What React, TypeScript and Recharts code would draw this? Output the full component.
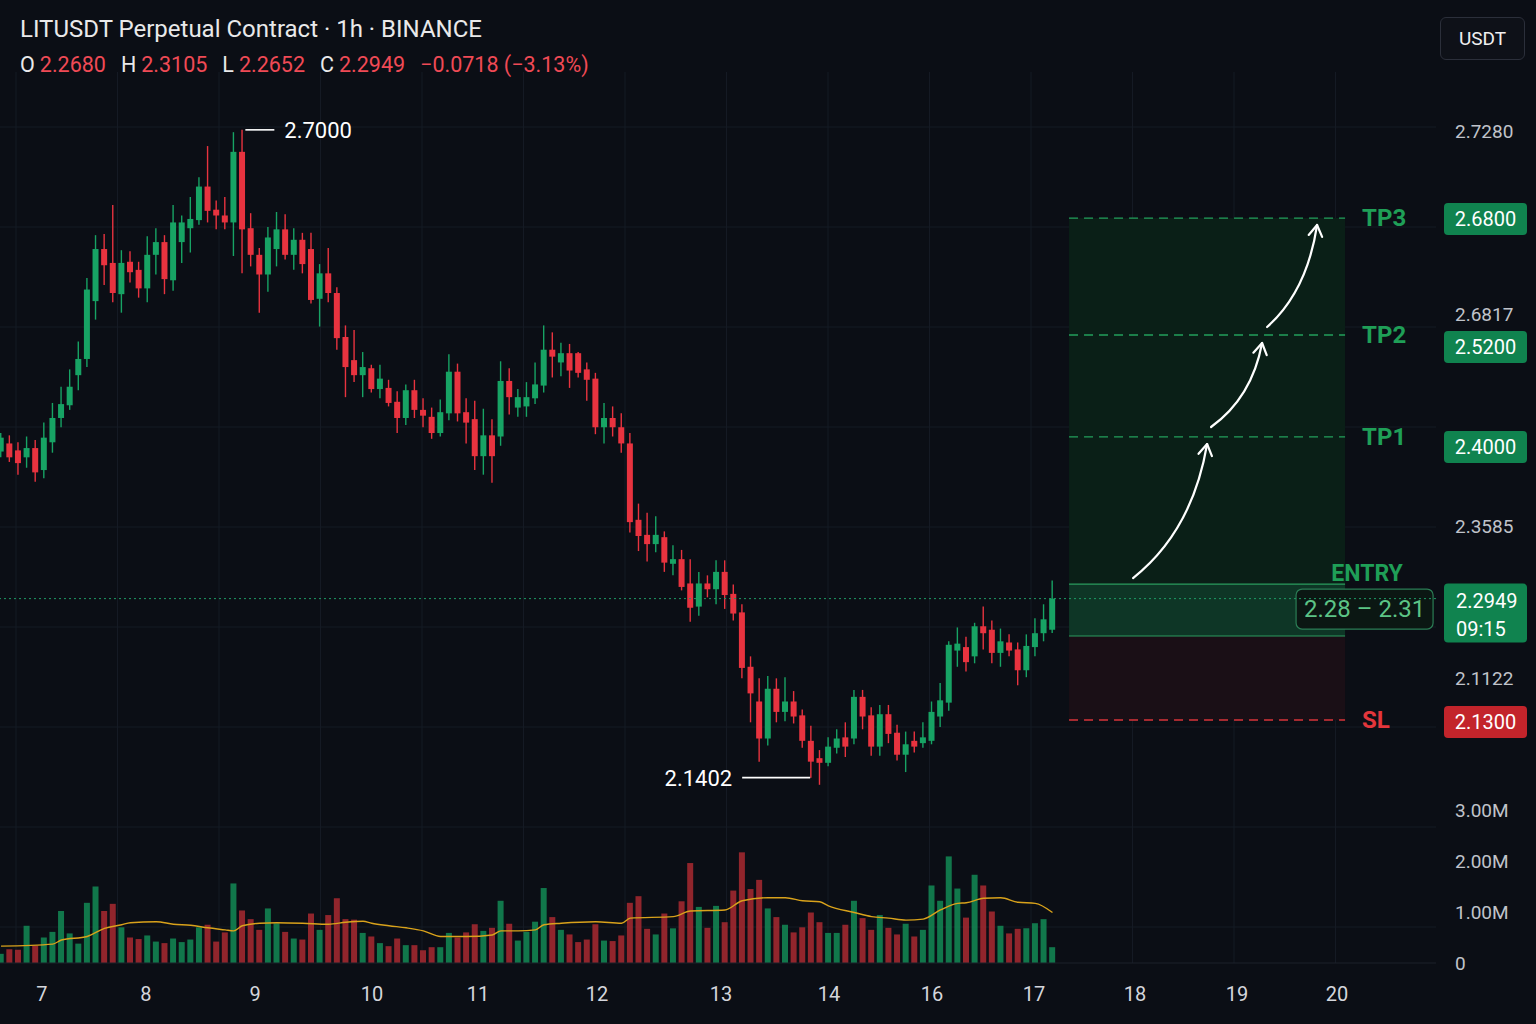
import React from "react";
import {
  ComposedChart,
  Bar,
  Line,
  XAxis,
  YAxis,
  CartesianGrid,
  Cell,
  ReferenceLine,
  ReferenceArea,
  ReferenceDot,
} from "recharts";

const BG = "#0b0e15";
const UP = "#17a364";
const DOWN = "#e8333f";
const VOL_UP = "#138a55";
const VOL_DOWN = "#a92930";
const TP_GREEN = "#1f9f57";
const SL_RED = "#e3363c";
const TP_BADGE = "#10834f";
const SL_BADGE = "#c3242b";
const AXIS_TEXT = "#c0c3ca";
const FONT = "Roboto, 'Noto Sans', sans-serif";

// 1h candles, oldest first: [open, high, low, close]
const ohlc: [number, number, number, number][] = [
  [2.422, 2.438, 2.417, 2.434], [2.429, 2.436, 2.413, 2.417], [2.423, 2.43, 2.402, 2.412],
  [2.417, 2.435, 2.408, 2.425], [2.425, 2.432, 2.396, 2.404], [2.406, 2.447, 2.399, 2.434],
  [2.43, 2.464, 2.421, 2.451], [2.451, 2.478, 2.443, 2.463], [2.462, 2.493, 2.458, 2.478],
  [2.488, 2.517, 2.475, 2.502], [2.502, 2.572, 2.495, 2.562], [2.552, 2.609, 2.536, 2.597],
  [2.597, 2.61, 2.566, 2.583], [2.585, 2.635, 2.551, 2.559], [2.558, 2.596, 2.542, 2.585],
  [2.586, 2.595, 2.568, 2.577], [2.579, 2.586, 2.555, 2.563], [2.563, 2.608, 2.551, 2.592],
  [2.592, 2.615, 2.575, 2.603], [2.603, 2.609, 2.558, 2.571], [2.57, 2.635, 2.561, 2.62],
  [2.603, 2.626, 2.585, 2.62], [2.615, 2.642, 2.594, 2.623], [2.622, 2.659, 2.618, 2.651],
  [2.651, 2.686, 2.62, 2.63], [2.631, 2.639, 2.614, 2.626], [2.626, 2.642, 2.614, 2.62],
  [2.62, 2.698, 2.591, 2.681], [2.681, 2.7, 2.576, 2.614], [2.615, 2.628, 2.582, 2.592],
  [2.592, 2.598, 2.542, 2.575], [2.575, 2.616, 2.56, 2.607], [2.597, 2.629, 2.582, 2.614],
  [2.614, 2.627, 2.588, 2.592], [2.592, 2.615, 2.579, 2.605], [2.605, 2.611, 2.576, 2.584],
  [2.597, 2.611, 2.55, 2.553], [2.554, 2.584, 2.53, 2.576], [2.576, 2.598, 2.551, 2.559],
  [2.559, 2.564, 2.51, 2.52], [2.521, 2.531, 2.469, 2.495], [2.501, 2.527, 2.482, 2.488],
  [2.488, 2.508, 2.469, 2.495], [2.494, 2.497, 2.473, 2.476], [2.476, 2.497, 2.468, 2.485],
  [2.477, 2.484, 2.461, 2.464], [2.465, 2.474, 2.438, 2.451], [2.451, 2.48, 2.445, 2.475],
  [2.475, 2.484, 2.451, 2.458], [2.458, 2.468, 2.443, 2.453], [2.452, 2.46, 2.433, 2.438],
  [2.438, 2.467, 2.435, 2.456], [2.455, 2.506, 2.449, 2.491], [2.491, 2.498, 2.448, 2.455],
  [2.456, 2.468, 2.429, 2.447], [2.45, 2.466, 2.406, 2.418], [2.418, 2.459, 2.402, 2.436],
  [2.436, 2.45, 2.395, 2.418], [2.435, 2.5, 2.427, 2.483], [2.483, 2.494, 2.454, 2.469],
  [2.46, 2.476, 2.452, 2.469], [2.461, 2.482, 2.452, 2.469], [2.468, 2.499, 2.463, 2.48],
  [2.479, 2.531, 2.473, 2.51], [2.51, 2.525, 2.486, 2.504], [2.499, 2.516, 2.487, 2.507],
  [2.507, 2.515, 2.477, 2.492], [2.507, 2.508, 2.486, 2.49], [2.493, 2.499, 2.466, 2.484],
  [2.485, 2.49, 2.437, 2.443], [2.443, 2.464, 2.429, 2.451], [2.451, 2.461, 2.435, 2.443],
  [2.443, 2.455, 2.421, 2.429], [2.429, 2.438, 2.352, 2.361], [2.363, 2.377, 2.336, 2.349],
  [2.35, 2.369, 2.327, 2.342], [2.342, 2.366, 2.335, 2.35], [2.348, 2.353, 2.318, 2.326],
  [2.325, 2.341, 2.315, 2.329], [2.329, 2.337, 2.302, 2.305], [2.308, 2.329, 2.275, 2.287],
  [2.288, 2.318, 2.28, 2.308], [2.308, 2.315, 2.296, 2.303], [2.303, 2.328, 2.29, 2.318],
  [2.318, 2.328, 2.286, 2.298], [2.299, 2.307, 2.276, 2.282], [2.283, 2.29, 2.226, 2.235],
  [2.236, 2.245, 2.188, 2.213], [2.206, 2.226, 2.154, 2.174], [2.174, 2.228, 2.168, 2.217],
  [2.217, 2.226, 2.188, 2.197], [2.197, 2.227, 2.189, 2.206], [2.206, 2.215, 2.187, 2.193],
  [2.194, 2.199, 2.166, 2.172], [2.172, 2.185, 2.1402, 2.154], [2.157, 2.164, 2.134, 2.153],
  [2.153, 2.175, 2.15, 2.167], [2.166, 2.182, 2.161, 2.174], [2.175, 2.188, 2.158, 2.167],
  [2.174, 2.216, 2.169, 2.21], [2.21, 2.216, 2.182, 2.193], [2.194, 2.201, 2.159, 2.167],
  [2.167, 2.203, 2.159, 2.195], [2.195, 2.203, 2.17, 2.178], [2.179, 2.186, 2.155, 2.16],
  [2.16, 2.18, 2.145, 2.169], [2.172, 2.18, 2.162, 2.167], [2.17, 2.188, 2.166, 2.175],
  [2.172, 2.206, 2.169, 2.197], [2.193, 2.222, 2.184, 2.207], [2.205, 2.258, 2.198, 2.255],
  [2.25, 2.27, 2.236, 2.256], [2.253, 2.262, 2.232, 2.24], [2.245, 2.274, 2.239, 2.271],
  [2.271, 2.288, 2.251, 2.265], [2.268, 2.276, 2.239, 2.248], [2.248, 2.269, 2.236, 2.258],
  [2.257, 2.264, 2.245, 2.25], [2.251, 2.257, 2.22, 2.233], [2.233, 2.264, 2.227, 2.254],
  [2.253, 2.278, 2.245, 2.265], [2.265, 2.29, 2.258, 2.277], [2.268, 2.3105, 2.2652, 2.2949],
];

// volume per candle, in millions
const volumes = [
  0.18, 0.27, 0.26, 0.73, 0.34, 0.5, 0.61, 1.02, 0.58, 0.38,
  1.18, 1.5, 1.02, 1.16, 0.7, 0.5, 0.47, 0.54, 0.42, 0.39,
  0.48, 0.41, 0.46, 0.7, 0.75, 0.42, 0.6, 1.56, 1.03, 0.86,
  0.65, 1.07, 0.78, 0.61, 0.48, 0.46, 0.97, 0.65, 0.94, 1.27,
  0.86, 0.85, 0.59, 0.52, 0.39, 0.33, 0.48, 0.35, 0.35, 0.25,
  0.31, 0.31, 0.59, 0.5, 0.6, 0.76, 0.63, 0.69, 1.22, 0.77,
  0.44, 0.61, 0.81, 1.47, 0.9, 0.65, 0.56, 0.41, 0.46, 0.76,
  0.44, 0.43, 0.54, 1.18, 1.31, 0.67, 0.56, 0.97, 0.68, 1.21,
  1.96, 1.1, 0.69, 1.12, 0.8, 1.42, 2.17, 1.45, 1.63, 1.07,
  0.9, 0.75, 0.6, 0.7, 0.99, 0.8, 0.59, 0.59, 0.75, 1.22,
  0.88, 0.65, 0.94, 0.69, 0.56, 0.77, 0.52, 0.65, 1.52, 1.22,
  2.09, 1.46, 0.89, 1.73, 1.52, 1.01, 0.73, 0.58, 0.67, 0.68,
  0.78, 0.86, 0.31,
];

// yellow volume average, read at [candle, millions]
const volumeMa: [number, number][] = [
  [0, 0.33], [6, 0.37], [7, 0.45], [10, 0.52], [12, 0.68], [14, 0.75], [15, 0.79],
  [18, 0.81], [20, 0.76], [22, 0.74], [24, 0.69], [26, 0.65], [27, 0.63], [28, 0.73],
  [30, 0.78], [32, 0.79], [35, 0.78], [38, 0.76], [40, 0.8], [42, 0.82], [43, 0.78],
  [45, 0.73], [47, 0.69], [49, 0.63], [51, 0.52], [54, 0.52], [57, 0.55], [58, 0.63],
  [60, 0.63], [62, 0.65], [63, 0.75], [65, 0.78], [69, 0.81], [72, 0.78], [73, 0.88],
  [78, 0.91], [80, 1.02], [84, 1.04], [86, 1.22], [89, 1.28], [91, 1.28], [93, 1.22],
  [95, 1.2], [96, 1.12], [99, 0.99], [101, 0.91], [103, 0.88], [105, 0.84], [107, 0.86],
  [109, 1.04], [111, 1.17], [112, 1.18], [114, 1.27], [116, 1.28], [118, 1.19],
  [120, 1.17], [122, 0.99],
];

// day labels sit where the picture prints them (candle units)
const dayTickAt = [4.75, 16.82, 29.47, 43.05, 55.35, 69.15, 83.54, 96.07, 108.03, 119.86, 131.58, 143.42, 155.02];
const dayTickLabels = ["7", "8", "9", "10", "11", "12", "13", "14", "16", "17", "18", "19", "20"];

// grey price labels: the printed numbers don't follow the axis, so keep both
const priceTickAt = [2.699, 2.5409, 2.3576, 2.2263];
const priceTickLabels = ["2.7280", "2.6817", "2.3585", "2.1122"];

// trade plan: lines where drawn, badges with the printed prices
const levelNames = ["TP3", "TP2", "TP1", "SL"];
const levelAt = [2.6238, 2.5227, 2.4346, 2.19];
const levelLabels = ["2.6800", "2.5200", "2.4000", "2.1300"];
const entryZone = [2.2626, 2.3075];
const entryLabel = "2.28 – 2.31";
const planFrom = 123.92;
const planTo = 155.95;

// curved arrows from the entry up to each target: [candle, price]
const arrowTail: [number, number][] = [[131.35, 2.3127], [140.4, 2.4432], [146.9, 2.5296]];
const arrowTip: [number, number][] = [[139.94, 2.4285], [146.32, 2.5158], [152.7, 2.6178]];

const volumeTicks = [0, 1, 2, 3];
const volumeTickLabels = ["0", "1.00M", "2.00M", "3.00M"];

const peakIdx = 28;
const troughIdx = 94;
const countdown = "09:15";
const change = "−0.0718 (−3.13%)";

const X_DOMAIN: [number, number] = [-0.12, 166.5];
const badgeNudge: Record<string, number> = { TP3: 1, TP2: 12, TP1: 10, SL: 2 };

const maAt = new Map(volumeMa);
const rows = ohlc.map(([open, high, low, close], t) => ({
  t,
  open,
  high,
  low,
  close,
  volume: volumes[t],
  ma: maAt.has(t) ? maAt.get(t) : null,
}));
const last = rows[rows.length - 1];
const lastClose = last.close;
const dayLabelAt = new Map(dayTickAt.map((v, k) => [v, dayTickLabels[k]]));

const Candle = (props: any) => {
  const { x, y, width, height, payload } = props;
  const { open, close, high, low } = payload;
  const top = Math.min(y, y + height);
  const h = Math.abs(height);
  const k = high > low ? h / (high - low) : 0;
  const yOf = (v: number) => top + (high - v) * k;
  const color = close >= open ? UP : DOWN;
  const bodyTop = yOf(Math.max(open, close));
  const bodyBottom = yOf(Math.min(open, close));
  const cx = x + width / 2;
  return (
    <g>
      <line x1={cx} x2={cx} y1={top} y2={top + h} stroke={color} strokeWidth={1.4} />
      <rect x={x} y={bodyTop} width={width} height={Math.max(1, bodyBottom - bodyTop)} fill={color} />
    </g>
  );
};

const PriceTick = (props: any) => {
  const { x, y, payload } = props;
  const v = payload.value;
  const gi = priceTickAt.indexOf(v);
  if (gi >= 0) {
    return (
      <text x={x + 19} y={y} dy={7} fill={AXIS_TEXT} fontSize={19} fontFamily={FONT}>
        {priceTickLabels[gi]}
      </text>
    );
  }
  const li = levelAt.indexOf(v);
  if (li >= 0) {
    const name = levelNames[li];
    const by = y + (badgeNudge[name] || 0);
    return (
      <g>
        <rect x={x + 8} y={by - 16} width={83} height={32} rx={4} fill={name === "SL" ? SL_BADGE : TP_BADGE} />
        <text x={x + 49.5} y={by} dy={7} textAnchor="middle" fill="#fff" fontSize={20} fontFamily={FONT}>
          {levelLabels[li]}
        </text>
      </g>
    );
  }
  if (v === lastClose) {
    return (
      <g>
        <rect x={x + 8} y={y - 15} width={83} height={59} rx={4} fill={TP_BADGE} />
        <text x={x + 20} y={y + 9} fill="#fff" fontSize={20} fontFamily={FONT}>
          {lastClose.toFixed(4)}
        </text>
        <text x={x + 20} y={y + 37} fill="#fff" fontSize={20} fontFamily={FONT}>
          {countdown}
        </text>
      </g>
    );
  }
  return <g />;
};

const CurvedArrow = (p: any) => {
  const { x1, y1, x2, y2 } = p;
  const qx = x1 + (x2 - x1) * 0.8;
  const qy = y1 + (y2 - y1) * 0.35;
  const ang = Math.atan2(y2 - qy, x2 - qx);
  const head = 13;
  const a1 = ang + Math.PI - 0.55;
  const a2 = ang + Math.PI + 0.55;
  return (
    <g fill="none" stroke="#ffffff" strokeWidth={2.2} strokeLinecap="round" strokeLinejoin="round">
      <path d={`M${x1},${y1} Q${qx},${qy} ${x2},${y2}`} />
      <path
        d={`M${x2 + head * Math.cos(a1)},${y2 + head * Math.sin(a1)} L${x2},${y2} L${x2 + head * Math.cos(a2)},${y2 + head * Math.sin(a2)}`}
      />
    </g>
  );
};

const EntryLabel = (p: any) => {
  const { x, y, width } = p.viewBox;
  const right = x + width;
  return (
    <g fontFamily={FONT}>
      <text x={right + 22} y={y - 3} textAnchor="middle" fill={TP_GREEN} fontSize={23} fontWeight={700}>
        ENTRY
      </text>
      <rect x={right - 49} y={y + 5} width={137} height={40} rx={6} fill="#0b1713" stroke="#2b7d55" strokeWidth={1.2} />
      <text x={right + 19.5} y={y + 33} textAnchor="middle" fill="#5cc486" fontSize={24}>
        {entryLabel}
      </text>
    </g>
  );
};

export default function App() {
  return (
    <div
      style={{
        position: "absolute",
        left: 0,
        top: 0,
        width: 1536,
        height: 1024,
        background: BG,
        fontFamily: FONT,
        overflow: "hidden",
      }}
    >
      <ComposedChart width={1536} height={1024} data={rows} margin={{ top: 72, right: 0, bottom: 0, left: 0 }}>
        <CartesianGrid
          xAxisId="t"
          yAxisId="price"
          stroke="#151a24"
          horizontalCoordinatesGenerator={({ offset }: any) =>
            Array.from({ length: 9 }, (_, k) => offset.top + 55 + k * 100)
          }
          verticalCoordinatesGenerator={({ offset }: any) =>
            Array.from({ length: 14 }, (_, k) => offset.left + 16 + k * 101.5)
          }
        />
        <XAxis
          xAxisId="t"
          dataKey="t"
          type="number"
          domain={X_DOMAIN}
          allowDataOverflow
          ticks={dayTickAt}
          interval={0}
          tickFormatter={(v: number) => dayLabelAt.get(v) || ""}
          height={61}
          tickLine={false}
          axisLine={{ stroke: "#1c202b" }}
          tickMargin={18}
          tick={{ fill: "#d4d6dc", fontSize: 20, fontFamily: FONT }}
        />
        <XAxis xAxisId="tv" dataKey="t" type="number" domain={X_DOMAIN} allowDataOverflow hide />
        <YAxis
          yAxisId="price"
          orientation="right"
          type="number"
          domain={[1.98, 2.75]}
          allowDataOverflow
          ticks={[...priceTickAt, ...levelAt, lastClose]}
          interval={0}
          width={100}
          tickLine={false}
          axisLine={false}
          tickSize={0}
          tickMargin={0}
          tick={PriceTick}
        />
        <YAxis yAxisId="vol" type="number" domain={[0, 17.47]} allowDataOverflow hide />

        {/* trade plan zones */}
        <ReferenceArea xAxisId="t" yAxisId="price" x1={planFrom} x2={planTo} y1={entryZone[1]} y2={levelAt[0]} fill="#0a1f17" fillOpacity={1} stroke="none" />
        <ReferenceArea xAxisId="t" yAxisId="price" x1={planFrom} x2={planTo} y1={levelAt[3]} y2={entryZone[0]} fill="#1a0f16" fillOpacity={1} stroke="none" />
        <ReferenceArea xAxisId="t" yAxisId="price" x1={planFrom} x2={planTo} y1={entryZone[0]} y2={entryZone[1]} fill="#0e3626" fillOpacity={1} stroke="none" label={EntryLabel} />
        {entryZone.map((v) => (
          <ReferenceLine key={v} xAxisId="t" yAxisId="price" segment={[{ x: planFrom, y: v }, { x: planTo, y: v }]} stroke="#2a9c5e" strokeWidth={1.2} />
        ))}

        {levelNames.map((name, k) => (
          <ReferenceLine
            key={name}
            xAxisId="t"
            yAxisId="price"
            segment={[{ x: planFrom, y: levelAt[k] }, { x: planTo, y: levelAt[k] }]}
            stroke={name === "SL" ? "#d8343a" : "#23a05c"}
            strokeDasharray="9 6"
            strokeWidth={1.3}
            label={(p: any) => (
              <text
                x={p.viewBox.x + p.viewBox.width + 17}
                y={p.viewBox.y}
                dy={8}
                fill={name === "SL" ? SL_RED : TP_GREEN}
                fontSize={24}
                fontWeight={700}
                fontFamily={FONT}
              >
                {name}
              </text>
            )}
          />
        ))}

        <ReferenceLine xAxisId="t" yAxisId="price" y={lastClose} stroke="#1f9b66" strokeDasharray="2 3" strokeWidth={1} />

        {arrowTail.map((tail, k) => (
          <ReferenceLine
            key={`arrow-${k}`}
            xAxisId="t"
            yAxisId="price"
            segment={[{ x: tail[0], y: tail[1] }, { x: arrowTip[k][0], y: arrowTip[k][1] }]}
            shape={CurvedArrow}
          />
        ))}

        {volumeTicks.map((v, k) => (
          <ReferenceLine
            key={`vt-${v}`}
            xAxisId="tv"
            yAxisId="vol"
            y={v}
            stroke="none"
            label={(p: any) => (
              <text x={p.viewBox.x + p.viewBox.width + 19} y={p.viewBox.y} dy={7} fill={AXIS_TEXT} fontSize={19} fontFamily={FONT}>
                {volumeTickLabels[k]}
              </text>
            )}
          />
        ))}

        <Bar xAxisId="tv" yAxisId="vol" dataKey="volume" barSize={6} isAnimationActive={false}>
          {rows.map((r) => (
            <Cell key={r.t} fill={r.close >= r.open ? VOL_UP : VOL_DOWN} fillOpacity={0.85} />
          ))}
        </Bar>
        <Line
          xAxisId="tv"
          yAxisId="vol"
          dataKey="ma"
          type="monotone"
          connectNulls
          stroke="#d9a21b"
          strokeWidth={1.4}
          dot={false}
          isAnimationActive={false}
        />
        <Bar
          xAxisId="t"
          yAxisId="price"
          dataKey={(d: any) => [d.low, d.high]}
          barSize={6}
          shape={Candle}
          isAnimationActive={false}
        />

        <ReferenceDot
          xAxisId="t"
          yAxisId="price"
          x={peakIdx}
          y={ohlc[peakIdx][1]}
          shape={(p: any) => (
            <g>
              <line x1={p.cx + 3} x2={p.cx + 32} y1={p.cy} y2={p.cy} stroke="#fff" strokeWidth={1.6} />
              <text x={p.cx + 42} y={p.cy} dy={8} fill="#fff" fontSize={22} fontFamily={FONT}>
                {ohlc[peakIdx][1].toFixed(4)}
              </text>
            </g>
          )}
        />
        <ReferenceDot
          xAxisId="t"
          yAxisId="price"
          x={troughIdx}
          y={ohlc[troughIdx][2]}
          shape={(p: any) => (
            <g>
              <line x1={p.cx - 69} x2={p.cx - 1} y1={p.cy} y2={p.cy} stroke="#fff" strokeWidth={1.6} />
              <text x={p.cx - 79} y={p.cy} dy={8} textAnchor="end" fill="#fff" fontSize={22} fontFamily={FONT}>
                {ohlc[troughIdx][2].toFixed(4)}
              </text>
            </g>
          )}
        />
      </ComposedChart>

      <div style={{ position: "absolute", left: 20, top: 15, fontSize: 24, color: "#e9e9ea", whiteSpace: "nowrap" }}>
        LITUSDT Perpetual Contract · 1h · BINANCE
      </div>
      <div style={{ position: "absolute", left: 20, top: 52, fontSize: 21.5, color: "#e9e9ea", whiteSpace: "nowrap" }}>
        {[
          ["O", last.open],
          ["H", last.high],
          ["L", last.low],
          ["C", last.close],
        ].map(([k, v]) => (
          <span key={k as string} style={{ marginRight: 15 }}>
            {k}
            <span style={{ color: "#f04a55", marginLeft: 5 }}>{(v as number).toFixed(4)}</span>
          </span>
        ))}
        <span style={{ color: "#f04a55" }}>{change}</span>
      </div>
      <div
        style={{
          position: "absolute",
          left: 1440,
          top: 17,
          width: 83,
          height: 41,
          border: "1px solid #2b2f3a",
          borderRadius: 6,
          background: "#0e1118",
          color: "#f0f0f0",
          fontSize: 19,
          display: "flex",
          alignItems: "center",
          justifyContent: "center",
        }}
      >
        USDT
      </div>
    </div>
  );
}
